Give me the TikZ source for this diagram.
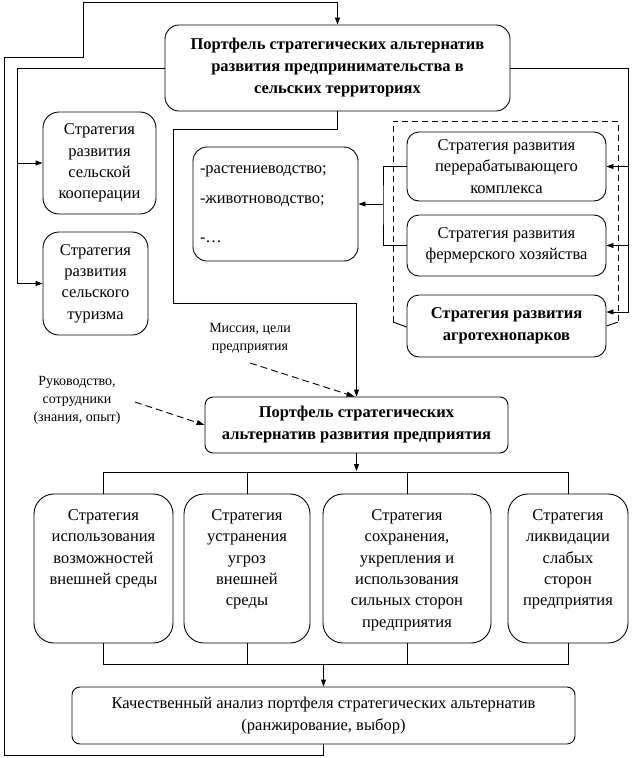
\documentclass[tikz,border=0pt]{standalone}
\usepackage{fontspec}
\setmainfont{Liberation Serif}
\usetikzlibrary{arrows.meta,calc}
\begin{document}
\begin{tikzpicture}[x=1pt,y=-1pt,
  every node/.style={font=\fontsize{16.5}{21.3}\selectfont, inner sep=0pt, align=center},
  ln/.style={line width=0.9pt},
  box/.style={draw, ln, rounded corners=#1},
  box/.default=12pt,
  boldtxt/.style={font=\fontsize{16.5}{22}\selectfont\bfseries},
  arr/.style={ln, -{Triangle[length=7pt,width=5pt]}},
  darr/.style={ln, dash pattern=on 7pt off 4pt, -{Triangle[length=8pt,width=5pt]}},
  frame/.style={ln, dash pattern=on 6pt off 4pt},
  lbl/.style={font=\fontsize{14}{18}\selectfont},
]
\fill[white] (0,0) rectangle (635,758);
\useasboundingbox (0,0) rectangle (635,758);

% top box
\node[box=14pt, boldtxt, minimum width=345pt, minimum height=86pt] (top) at (337.5,68)
  {Портфель стратегических альтернатив\\развития предпринимательства в\\сельских территориях};

% left boxes
\node[box=16pt, minimum width=113pt, minimum height=102pt] (l1) at (99.5,163)
  {Стратегия\\развития\\сельской\\кооперации};
\node[box=16pt, minimum width=105pt, minimum height=103pt] (l2) at (95.5,283.5)
  {Стратегия\\развития\\сельского\\туризма};

% branches box
\node[box=14pt, text width=151pt, inner xsep=7pt, minimum height=114pt, align=left] (crops) at (275.5,204)
  {-растениеводство;\\[9pt]-животноводство;\\[17pt]-…};

% right boxes
\node[box=12pt, minimum width=199pt, minimum height=69pt] (r1) at (506.5,166.5)
  {Стратегия развития\\перерабатывающего\\комплекса};
\node[box=12pt, minimum width=199pt, minimum height=61pt] (r2) at (506.5,245.5)
  {Стратегия развития\\фермерского хозяйства};
\node[box=12pt, boldtxt, minimum width=199pt, minimum height=62pt] (r3) at (506.5,326)
  {Стратегия развития\\агротехнопарков};

% middle box
\node[box=8pt, boldtxt, minimum width=303pt, minimum height=56pt] (mid) at (356.5,425)
  {Портфель стратегических\\альтернатив развития предприятия};

% labels
\node[lbl] (mission) at (250,338) {Миссия, цели\\предприятия};
\node[lbl] (guide) at (77,400) {Руководство,\\сотрудники\\(знания, опыт)};

% four strategy boxes
\node[box=20pt, minimum width=139pt, minimum height=149pt] (b1) at (103.5,568.5) {};
\node[box=20pt, minimum width=126pt, minimum height=149pt] (b2) at (247,568.5) {};
\node[box=20pt, minimum width=168pt, minimum height=149pt] (b3) at (407,568.5) {};
\node[box=20pt, minimum width=120pt, minimum height=149pt] (b4) at (568,568.5) {};
\node[anchor=north] (b1t) at ($(b1.north)+(0,16)$) {Стратегия\\использования\\возможностей\\внешней среды};
\node[anchor=north] (b2t) at ($(b2.north)+(0,16)$) {Стратегия\\устранения\\угроз\\внешней\\среды};
\node[anchor=north] (b3t) at ($(b3.north)+(0,16)$) {Стратегия\\сохранения,\\укрепления и\\использования\\сильных сторон\\предприятия};
\node[anchor=north] (b4t) at ($(b4.north)+(0,16)$) {Стратегия\\ликвидации\\слабых\\сторон\\предприятия};

% bottom box
\node[box=8pt, minimum width=503pt, minimum height=57pt] (qa) at (323.5,715.5)
  {Качественный анализ портфеля стратегических альтернатив\\(ранжирование, выбор)};

% dashed frame around right boxes
\draw[frame] (393,322) -- (393,121) -- (618,121) -- (618,322);
\draw[ln] (393,322) -- (r3.west |- 0,327);
\draw[ln] (618,322) -- (r3.east |- 0,326);

% feedback loop
\draw[arr] (qa.south) |- (4,755) |- (83,57) |- (top.north |- 0,2) -- (top.north);

% left branch
\draw[arr] (top.west) -| ([xshift=-25pt]l2.west) -- (l2.west);
\draw[arr] (l1.west -| 18,0) -- (l1.west);

% right branch
\draw[arr] (top.east) -| (628,312) -- (r3.east |- 0,312);
\draw[arr] (r1.east -| 628,0) -- (r1.east);
\draw[arr] (r2.east -| 628,0) -- (r2.east);

% bracket to branches
\coordinate (br) at (383,204);
\draw[ln] (r1.west) -| (br) |- (r2.west);
\draw[arr] (br) -- (crops.east);

% top to middle
\draw[arr] (top.south) |- (173,129) |- (mid.north |- 0,303) -- (mid.north);

% dashed inputs
\coordinate (ms) at (250,363);
\coordinate (rs) at (135,402);
\draw[darr] (ms) -- ([xshift=-2pt]mid.north);
\draw[darr] (rs) -- (mid.west);

% buses
\draw[arr] (mid.south) -- (mid.south |- 0,471);
\draw[ln] (b1.north) |- (b4.north |- 0,472) -- (b4.north);
\draw[ln] (b2.north) -- (b2.north |- 0,472);
\draw[ln] (b3.north) -- (b3.north |- 0,472);
\draw[ln] (b1.south) |- (b4.south |- 0,664) -- (b4.south);
\draw[ln] (b2.south) -- (b2.south |- 0,664);
\draw[ln] (b3.south) -- (b3.south |- 0,664);
\draw[arr] (qa.north |- 0,664) -- (qa.north);
\end{tikzpicture}
\end{document}
